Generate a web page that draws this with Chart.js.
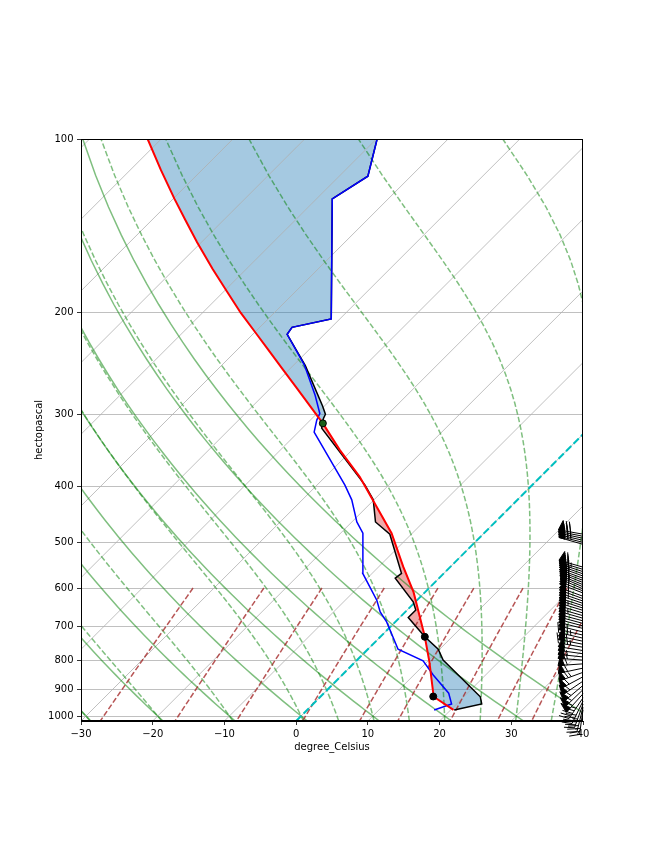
<!DOCTYPE html>
<html>
<head>
<meta charset="utf-8">
<script src="https://cdn.jsdelivr.net/npm/chart.js@4/dist/chart.umd.min.js"></script>
<style>
  html, body { margin: 0; padding: 0; background: #ffffff; }
  #wrap { width: 648px; height: 864px; }
</style>
</head>
<body>
<div id="wrap"><canvas id="skewChart" width="648" height="864"></canvas></div>
<script>
// sounding (hPa / degC), surface first
const TEMP_P = [976, 953, 926, 800, 766, 729, 675, 655, 634, 577, 566, 484, 461, 422, 398, 317, 305, 300, 290, 247, 218, 212, 205, 127, 116, 100];
const TEMP_C = [20.5, 23.5, 22.3, 12.0, 9.8, 6.2, 1.2, 1.2, -0.3, -6.1, -5.9, -13.0, -16.7, -20.1, -23.3, -37.3, -38.4, -38.7, -40.3, -48.3, -55.2, -55.5, -51.2, -67.8, -66.0, -69.9];

const DEW_P = [976, 953, 913, 849, 802, 766, 687, 660, 630, 566, 482, 461, 422, 398, 322, 307, 299, 278, 246, 218, 212, 205, 127, 116, 100];
const DEW_C = [17.7, 19.3, 17.4, 12.7, 9.3, 4.2, -1.2, -3.5, -5.6, -11.3, -16.9, -19.3, -23.1, -26.1, -37.8, -39.1, -39.6, -42.8, -48.6, -55.2, -55.5, -51.2, -67.8, -66.0, -69.9];

const PARCEL_P = [976, 926, 805, 729, 610, 551, 482, 425, 385, 346, 311, 270, 250, 231, 216, 200, 184, 168, 151, 138, 127, 113, 100];
const PARCEL_C = [20.4, 15.8, 10.3, 6.2, -1.6, -6.6, -12.9, -19.8, -25.2, -31.7, -37.8, -46.4, -51.1, -55.9, -60.0, -64.7, -69.5, -74.7, -80.6, -85.4, -89.8, -95.8, -101.9];

// LCL, LFC, EL
const LEVEL_P = [925, 729, 311];
const LEVEL_C = [15.7, 6.2, -37.8];

// winds: pressure, direction (deg), speed (kt)
const WIND_P = [484, 488, 492, 496, 500, 504,
    552, 557, 562, 567, 572, 577, 582, 587, 592, 597, 602, 607, 612,
    620, 626, 632, 638, 644, 650, 656, 663, 670, 677, 684, 691, 698, 705,
    715, 724, 733, 742, 751, 760, 770, 780, 790, 800,
    812, 826, 840, 855, 870, 885, 900, 915,
    930, 942, 954, 966, 975];
const WIND_DIR = [280, 281, 282, 283, 284, 286,
    286, 287, 288, 289, 290, 290, 291, 292, 292, 293, 293, 292, 291,
    290, 290, 289, 289, 288, 288, 287, 287, 286, 286, 285, 285, 285, 284,
    284, 283, 283, 282, 281, 280, 279, 278, 276, 274,
    266, 258, 250, 242, 236, 230, 226, 222,
    214, 206, 200, 194, 188];
const WIND_SPD = [70, 70, 65, 65, 65, 60,
    60, 60, 65, 60, 60, 55, 55, 60, 55, 55, 55, 60, 55,
    55, 55, 50, 55, 50, 50, 55, 50, 50, 55, 50, 50, 50, 50,
    50, 50, 45, 50, 50, 45, 50, 50, 55, 55,
    60, 60, 65, 60, 60, 55, 55, 55,
    45, 40, 35, 30, 25];

// diagram lines
const ISOTHERMS = [-120, -110, -100, -90, -80, -70, -60, -50, -40, -30, -20, -10, 0, 10, 20, 30, 40];
const DRY_ADIABAT_T0 = [-30, -20, -10, 0, 10, 20, 30, 40];
const MOIST_ADIABAT_T0 = [-30, -20, -10, 0, 5, 10, 15, 20, 25, 30, 35, 40];
const MIXING_RATIOS = [0.0004, 0.001, 0.002, 0.004, 0.007, 0.01, 0.016, 0.024, 0.032];

const PRESSURE_TICKS = [100, 200, 300, 400, 500, 600, 700, 800, 900, 1000];
const TEMP_TICKS = [-30, -20, -10, 0, 10, 20, 30, 40];

const P_TOP = 100;
const P_BOTTOM = 1020;
const SKEW = 80.5;   // degC per decade of pressure
const BARB_LENGTH = 25;

const RD = 287.04749, CPD = 1004.666, LV = 2.50084e6, EPS = 0.6219569, KAPPA = 0.2857;

const skewX = (t, p) => t + SKEW * Math.log10(P_BOTTOM / p);
const toPoints = (ps, ts) => ps.map((p, i) => ({ x: skewX(ts[i], p), y: p }));

const adiabatP = [];
for (let i = 0; i < 60; i++) adiabatP.push(P_BOTTOM - (P_BOTTOM - P_TOP) * i / 59);
const mixingP = [];
for (let i = 0; i < 20; i++) mixingP.push(600 + (P_BOTTOM - 600) * i / 19);

function moistRate(p, t) {
    const tc = t - 273.15;
    const es = 6.112 * Math.exp(17.67 * tc / (tc + 243.5));
    const rs = EPS * es / (p - es);
    const frac = (RD * t + LV * rs) / (CPD + (LV * LV * rs * EPS / (RD * t * t)));
    return frac / p;
}

function moistTemp(t0, p) {
    let t = t0 + 273.15, pc = 1000;
    const n = Math.max(1, Math.ceil(Math.abs(p - 1000) / 2));
    const h = (p - 1000) / n;
    for (let i = 0; i < n; i++) {
        const k1 = moistRate(pc, t);
        const k2 = moistRate(pc + h / 2, t + h / 2 * k1);
        const k3 = moistRate(pc + h / 2, t + h / 2 * k2);
        const k4 = moistRate(pc + h, t + h * k3);
        t += h / 6 * (k1 + 2 * k2 + 2 * k3 + k4);
        pc += h;
    }
    return t - 273.15;
}

function dewpointFromMixing(w, p) {
    const e = w * p / (EPS + w);
    const val = Math.log(e / 6.112);
    return 243.5 * val / (17.67 - val);
}

// points of a profile strictly between two pressures, in the given order
function slice(ps, ts, pHigh, pLow) {
    const out = [];
    ps.forEach((p, i) => { if (p < pHigh && p > pLow) out.push({ x: skewX(ts[i], p), y: p }); });
    return out;
}

const lcl = { x: skewX(LEVEL_C[0], LEVEL_P[0]), y: LEVEL_P[0] };
const lfc = { x: skewX(LEVEL_C[1], LEVEL_P[1]), y: LEVEL_P[1] };
const el = { x: skewX(LEVEL_C[2], LEVEL_P[2]), y: LEVEL_P[2] };

// shaded areas between the parcel and the environment
const capeShape = [lfc]
    .concat(slice(TEMP_P, TEMP_C, lfc.y, el.y))
    .concat([el])
    .concat(slice(PARCEL_P, PARCEL_C, lfc.y, el.y).reverse());

const cinTopShape = [el]
    .concat(slice(TEMP_P, TEMP_C, el.y, P_TOP))
    .concat([{ x: skewX(TEMP_C[TEMP_C.length - 1], P_TOP), y: P_TOP }, { x: skewX(PARCEL_C[PARCEL_C.length - 1], P_TOP), y: P_TOP }])
    .concat(slice(PARCEL_P, PARCEL_C, el.y, P_TOP).reverse());

const cinLowShape = [{ x: skewX(TEMP_C[0], TEMP_P[0]), y: TEMP_P[0] }]
    .concat(slice(TEMP_P, TEMP_C, TEMP_P[0], lfc.y))
    .concat([lfc])
    .concat(slice(PARCEL_P, PARCEL_C, PARCEL_P[0], lfc.y).reverse())
    .concat([{ x: skewX(PARCEL_C[0], PARCEL_P[0]), y: PARCEL_P[0] }]);

function lineSet(points, color, width, dash, order) {
    return {
        data: points,
        borderColor: color,
        borderWidth: width,
        borderDash: dash || [],
        pointRadius: 0,
        fill: false,
        tension: 0,
        order: order,
        clip: 0
    };
}

function shapeSet(points, color) {
    return {
        data: points,
        borderWidth: 0,
        backgroundColor: color,
        pointRadius: 0,
        fill: 'shape',
        tension: 0,
        order: 9,
        clip: 0
    };
}

const datasets = [];

datasets.push({
    data: [lcl, lfc, el],
    showLine: false,
    pointRadius: 3.5,
    pointBorderWidth: 1,
    pointBorderColor: "#000000",
    pointBackgroundColor: ["#000000", "#000000", "#1a5e1a"],
    order: 0,
    clip: 0
});
datasets.push(lineSet(toPoints(PARCEL_P, PARCEL_C), "#ff0000", 2, null, 1));
datasets.push(lineSet(toPoints(DEW_P, DEW_C), "#0000ff", 1.5, null, 2));
datasets.push(lineSet(toPoints(TEMP_P, TEMP_C), "#000000", 1.5, null, 3));
datasets.push(lineSet([{ x: skewX(0, P_BOTTOM), y: P_BOTTOM }, { x: skewX(0, P_TOP), y: P_TOP }], "#00bfbf", 2, [7.4, 3.2], 4));

MIXING_RATIOS.forEach(w => {
    datasets.push(lineSet(mixingP.map(p => ({ x: skewX(dewpointFromMixing(w, p), p), y: p })), "rgba(165, 42, 42, 0.8)", 1.5, [5.5, 2.4], 5));
});
MOIST_ADIABAT_T0.forEach(t0 => {
    datasets.push(lineSet(adiabatP.map(p => ({ x: skewX(moistTemp(t0, p), p), y: p })), "rgba(0, 128, 0, 0.5)", 1.5, [5.5, 2.4], 6));
});
DRY_ADIABAT_T0.forEach(t0 => {
    datasets.push(lineSet(adiabatP.map(p => ({ x: skewX((t0 + 273.15) * Math.pow(p / 1000, KAPPA) - 273.15, p), y: p })), "rgba(0, 128, 0, 0.5)", 1.5, null, 7));
});
ISOTHERMS.forEach(t => {
    datasets.push(lineSet([{ x: skewX(t, P_BOTTOM), y: P_BOTTOM }, { x: skewX(t, P_TOP), y: P_TOP }], "#b0b0b0", 0.8, null, 8));
});

datasets.push(shapeSet(capeShape, "rgba(214, 39, 40, 0.4)"));
datasets.push(shapeSet(cinTopShape, "rgba(31, 119, 180, 0.4)"));
datasets.push(shapeSet(cinLowShape, "rgba(31, 119, 180, 0.4)"));


function drawBarb(ctx, bx, by, dir, spd) {
    const L = BARB_LENGTH, h = 0.4 * L, w = 0.25 * L, sp = 0.125 * L;
    const rad = dir * Math.PI / 180;
    const sx = Math.sin(rad), sy = -Math.cos(rad);
    const nx = Math.cos(rad), ny = Math.sin(rad);
    const pt = (a, b) => [bx + b * sx + a * nx, by + b * sy + a * ny];

    let rest = Math.round(spd / 5) * 5;
    const nFlags = Math.floor(rest / 50); rest -= nFlags * 50;
    const nBarbs = Math.floor(rest / 10); rest -= nBarbs * 10;
    const half = rest >= 5;

    ctx.beginPath();
    ctx.moveTo(...pt(0, 0));
    ctx.lineTo(...pt(0, L));
    ctx.stroke();

    let off = L;
    for (let i = 0; i < nFlags; i++) {
        if (off !== L) off += sp / 2;
        ctx.beginPath();
        ctx.moveTo(...pt(0, off));
        ctx.lineTo(...pt(h, off - w / 2));
        ctx.lineTo(...pt(0, off - w));
        ctx.closePath();
        ctx.fill();
        ctx.stroke();
        off -= w + sp;
    }
    for (let i = 0; i < nBarbs; i++) {
        ctx.beginPath();
        ctx.moveTo(...pt(0, off));
        ctx.lineTo(...pt(h, off + w / 2));
        ctx.stroke();
        off -= sp;
    }
    if (half) {
        if (off === L) off -= 1.5 * sp;
        ctx.beginPath();
        ctx.moveTo(...pt(0, off));
        ctx.lineTo(...pt(h / 2, off + w / 4));
        ctx.stroke();
    }
}

const framePlugin = {
    id: "frameAndBarbs",
    afterDraw(chart) {
        const ctx = chart.ctx;
        const area = chart.chartArea;
        const yScale = chart.scales.y;
        ctx.save();
        ctx.strokeStyle = "#000000";
        ctx.lineWidth = 1;
        ctx.strokeRect(area.left + 0.5, area.top + 0.5, area.right - area.left - 1, area.bottom - area.top - 1);
        ctx.fillStyle = "#000000";
        ctx.lineJoin = "miter";
        WIND_P.forEach((p, i) => {
            drawBarb(ctx, area.right, yScale.getPixelForValue(p), WIND_DIR[i], WIND_SPD[i]);
        });
        ctx.restore();
    }
};

const tickFont = { family: "DejaVu Sans", size: 10 };

new Chart(document.getElementById("skewChart"), {
    type: "line",
    data: { datasets: datasets },
    options: {
        responsive: false,
        devicePixelRatio: 1,
        animation: false,
        events: [],
        layout: { padding: { left: 33, right: 65, top: 139, bottom: 111 } },
        scales: {
            x: {
                type: "linear",
                min: -30,
                max: 40,
                afterBuildTicks: scale => { scale.ticks = TEMP_TICKS.map(v => ({ value: v })); },
                afterFit: scale => { scale.height = 32; },
                ticks: {
                    callback: v => String(v).replace("-", "\u2212"),
                    color: "#000000",
                    font: tickFont,
                    padding: 3,
                    maxRotation: 0,
                    autoSkip: false
                },
                grid: { display: true, drawOnChartArea: false, drawTicks: true, tickLength: 4, tickColor: "#000000", tickWidth: 0.8 },
                border: { display: true, color: "#000000", width: 1 },
                title: { display: true, text: "degree_Celsius", color: "#000000", font: tickFont, padding: 0 }
            },
            y: {
                type: "logarithmic",
                reverse: true,
                min: P_TOP,
                max: P_BOTTOM,
                afterBuildTicks: scale => { scale.ticks = PRESSURE_TICKS.map(v => ({ value: v })); },
                afterFit: scale => { scale.width = 48; },
                ticks: {
                    callback: v => String(v),
                    color: "#000000",
                    font: tickFont,
                    padding: 3.5,
                    autoSkip: false
                },
                grid: { color: "#b0b0b0", lineWidth: 0.8, tickLength: 4, tickColor: "#000000", tickWidth: 0.8 },
                border: { display: true, color: "#000000", width: 1 },
                title: { display: true, text: "hectopascal", color: "#000000", font: tickFont, padding: 0 }
            }
        },
        plugins: {
            legend: { display: false },
            tooltip: { enabled: false }
        }
    },
    plugins: [framePlugin]
});
</script>
</body>
</html>
